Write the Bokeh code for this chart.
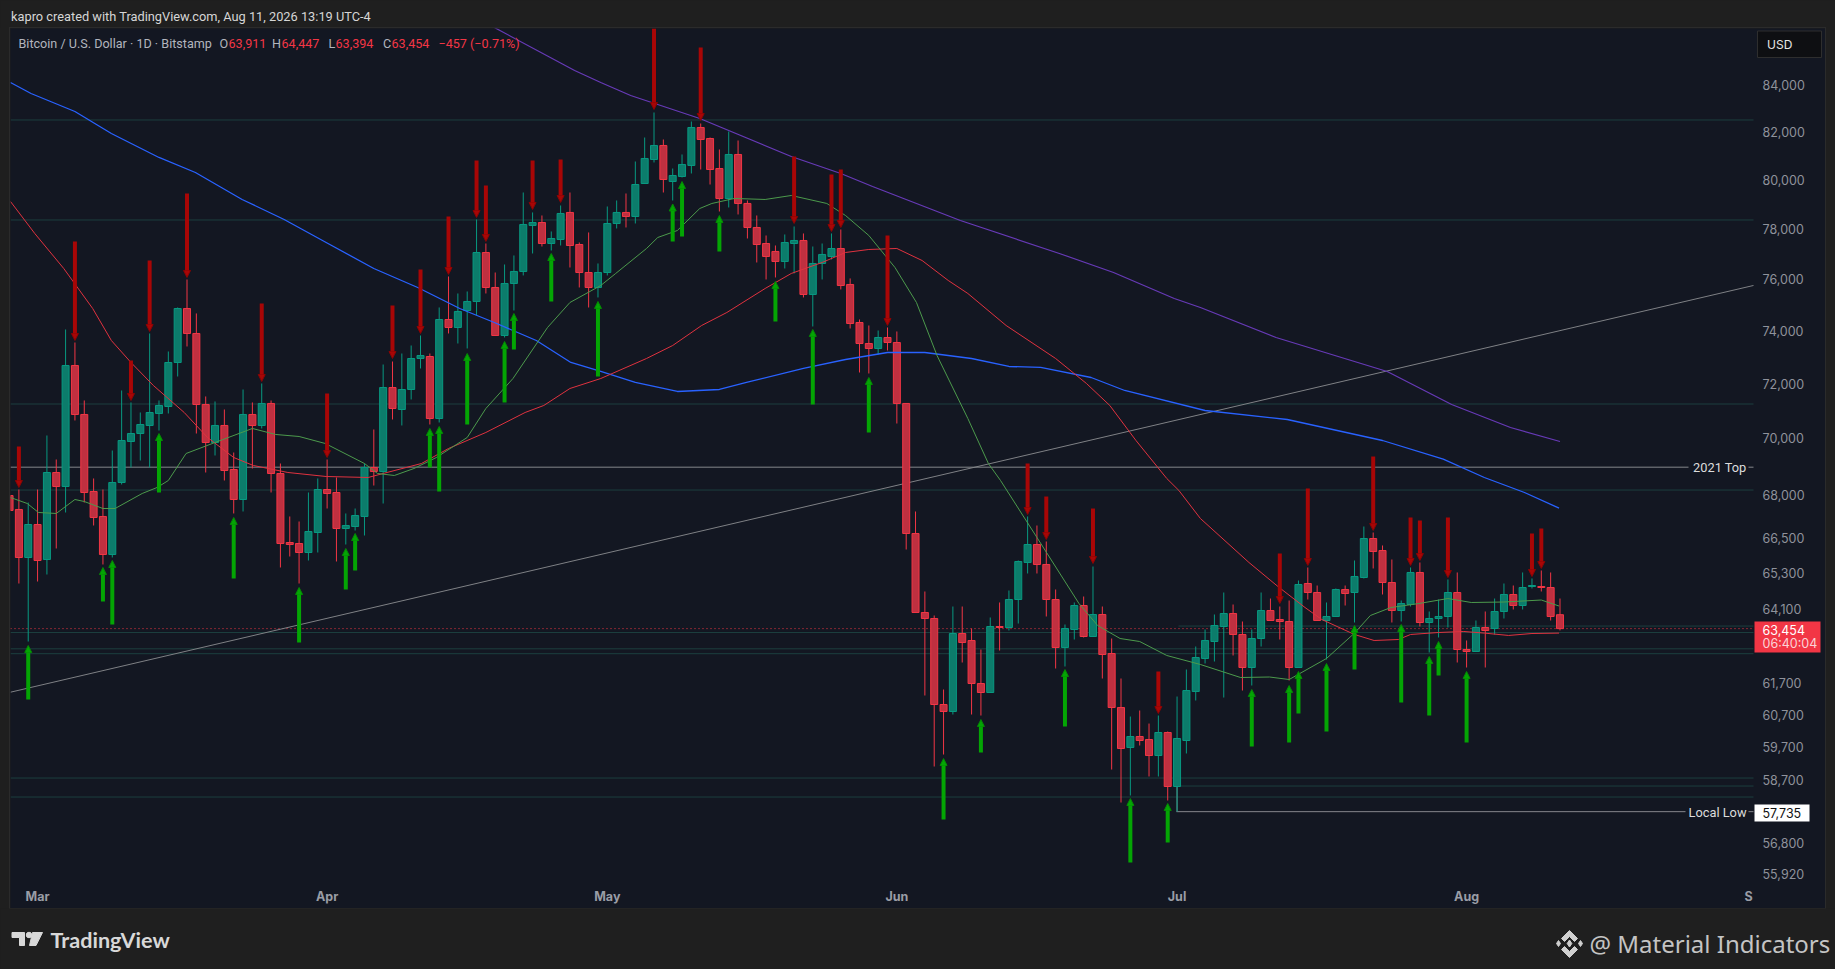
import math
from bokeh.plotting import figure
from bokeh.layouts import column
from bokeh.models import (Range1d, FixedTicker, NumeralTickFormatter, ColumnDataSource, Arrow,
                          NormalHead)
from bokeh.core.properties import value
from bokeh.embed import file_html
from bokeh.resources import INLINE

# ---------------- data ----------------
first_day = -3   # day index; 0 = 1 March
opens = [67965,67477,65826,66956,65758,68777,68282,72681,70867,68106,
 67234,65927,68423,69886,70175,70466,70904,71160,72794,74851,
 73892,71234,69850,70466,68884,67825,70867,70466,71271,68742,
 66337,66303,65996,66680,68176,68071,66818,66887,67234,68954,
 68813,71861,71050,71787,72944,73019,70721,74427,74121,74774,
 75122,77045,75667,73815,75823,76294,78127,78247,77404,77564,
 78653,77364,76254,75667,76254,78207,78653,78490,79837,80833,
 81419,79920,80127,80584,82178,81713,80457,79223,81042,79019,
 78046,77404,77086,76689,77404,77524,75394,76610,76887,77204,
 75784,74312,73511,73322,73739,73549,71271,66646,63984,63786,
 61017,60797,63294,63066,61682,61396,63523,63490,64414,65656,
 66269,65589,64414,62838,63425,64215,63196,63918,62644,60922,
 59679,60018,59925,59432,60142,58489,59894,61427,62483,63033,
 63523,63951,63262,62193,63131,64050,63753,63687,62193,64948,
 64647,63720,63852,64748,64647,65150,66474,66064,64982,64050,
 64248,65319,63654,63786,63852,64647,62773,62709,63490,63458,
 64017,64581,64215,64847,64847,64814,63911]
closes = [67442,65826,66956,65724,68777,68282,72681,70867,68071,67199,
 65927,68423,69922,70175,70502,70940,71197,72794,74851,73892,
 71234,69850,70466,68848,67825,70867,70466,71271,68742,66303,
 66269,65996,66715,68176,68036,66818,66922,67268,68954,68813,
 71861,71087,71787,72944,73057,70721,74427,74121,74736,75122,
 77045,75667,73815,75823,76294,78167,78247,77404,77604,78612,
 77324,76254,75667,76254,78207,78653,78490,79796,80875,81419,
 80002,80168,80625,82178,81671,80416,79223,81042,79019,78046,
 77364,76887,76689,77444,77524,75394,76610,76967,77204,75745,
 74274,73511,73322,73739,73549,71271,66646,63984,63786,61017,
 60797,63294,63001,61682,61396,63523,63490,64414,65690,66269,
 65589,64414,62838,63458,64215,63196,63918,62612,60922,59648,
 60018,59894,59432,60142,58489,59956,61459,62515,63066,63555,
 63951,63262,62193,63131,64050,63720,63687,62193,64915,64647,
 63720,63852,64748,64614,65184,66474,66030,64982,64050,64281,
 65319,63654,63786,63852,64647,62773,62709,63490,63392,64017,
 64581,64215,64814,64881,64814,63852,63454]
highs = [70760,68176,67720,68176,70103,69240,74044,73549,71381,68565,
 68176,69562,71750,71308,70940,73892,71381,73208,74890,75980,
 74659,71529,71344,71050,69490,71787,71308,72010,71381,69097,
 67234,67060,68071,68565,69240,68600,67338,67511,69097,70320,
 72719,72831,73132,73435,73815,73132,74890,76098,75433,75511,
 78368,77404,76254,76570,76927,79468,78653,78531,77885,78937,
 79468,77444,77845,76610,78896,79141,79427,80749,81755,82817,
 81671,80457,81042,82433,82348,81755,81251,82009,81629,79141,
 78531,77724,77324,77765,78087,77805,77284,77404,77805,77965,
 76020,74427,74197,74006,74121,73968,71271,67407,64681,63885,
 61491,64182,64182,63458,62773,63819,64315,64714,65724,67234,
 66922,66372,64748,63589,64315,64514,65521,64182,63131,61841,
 60640,60828,60421,60671,60173,61269,62129,62871,63425,63918,
 64647,64248,63687,63425,64647,64447,64182,64381,65049,65487,
 64881,64315,64781,64881,65724,66887,66680,66235,65758,64381,
 65487,65656,64017,64414,65083,65319,63066,63720,64017,64447,
 64948,64881,65319,65117,65386,65319,64447]
lows = [67442,64948,63033,65015,65251,66132,67372,70648,67720,66922,
 65589,65826,68353,68954,69204,68954,70284,70904,72270,73398,
 70175,68777,69383,68494,67338,67407,68919,70357,68071,65487,
 65860,64948,65724,65996,67511,65690,66269,66749,66577,68317,
 67685,70684,70466,71418,72569,70502,70575,73892,73511,73322,
 74582,75433,73815,73739,74774,76138,77006,77284,77125,77324,
 76451,75667,74890,75278,76138,78006,78046,78207,79837,80708,
 79468,79141,80085,80251,80416,79796,78693,78856,78572,77604,
 76649,75980,76059,76412,76216,75278,74159,75980,76768,75589,
 74083,72419,72382,73095,73246,70538,66098,63984,61301,59096,
 59463,60703,62354,60703,60671,61396,62741,63392,63621,65285,
 65285,63852,62161,62226,63098,63164,63196,61841,59004,58008,
 58218,59740,58792,58792,58068,57735,59494,61143,62322,62386,
 61237,62580,61459,61618,62871,63720,63098,61777,62193,64414,
 63720,62450,63852,64215,63654,65117,65454,64581,63654,63687,
 64182,63523,62676,63164,63490,62354,62193,62709,62193,63262,
 63786,64083,64083,64781,64681,63720,63394]

sell_days = [-2,4,10,12,16,24,31,38,41,44,47,48,53,56,66,71,81,85,86,91,106,108,113,120,133,136,143,147,148,151,160,161]
sell_from = [69706,77484,72869,76728,79427,75044,71639,74967,76372,78490,80791,79755,80791,80833,86486,85641,80959,80210,80416,77724,69097,67930,67511,62065,65962,68212,69347,67199,67095,67199,66646,66818]
sell_to   = [68247,73625,71381,73968,76059,72084,69311,72944,73892,76176,78450,77484,78775,79059,82945,82476,78207,77885,78046,74197,67303,66440,65623,60734,64281,65555,66749,65555,65724,65150,65184,65454]
buy_days = [-1,7,8,13,21,28,33,34,42,43,46,50,51,55,60,68,69,73,79,83,89,97,101,110,117,121,130,134,135,138,141,146,149,150,153]
buy_from = [61175,64348,63589,68071,65117,63001,64748,65386,68954,68106,70502,71308,73284,75122,72270,77484,77684,77086,74351,71234,70212,57502,59525,60328,56238,56822,59709,59832,60734,60173,62129,61080,60671,61936,59832]
buy_to   = [62903,65487,65724,70175,67199,64814,66132,66646,70357,70430,73132,73587,74659,77006,75122,78999,79920,78531,75902,74044,72232,59340,60546,62129,58128,57978,61491,61618,62065,62322,63555,63589,62547,63033,62065]

blue_days = [-2.9,-0.7,4,7.9,13,16.9,21.9,26.4,30.9,36,40.7,45.2,48.9,53.4,57.1,60.3,64,68.5,73,75.9,82,86.5,91,95,100,104,107.4,112.8,116.4,125,133.8,144,150.5,154.9,159.2,162.9]
blue_vals = [84108,83633,82859,81925,80917,80292,79182,78368,77444,76412,75667,74851,74312,73625,72794,72457,72047,71713,71787,72047,72569,72906,73170,73170,72944,72644,72607,72232,71750,71013,70684,69922,69254,68600,68071,67525]
purple_days = [48.9,57.5,60.3,63.5,70.9,80.7,86,89.4,98.8,109.4,115.2,121.7,124.5,132.6,144.5,151.4,157.7,163]
purple_vals = [86530,84634,84108,83547,82561,80958,80251,79714,78328,77006,76254,75239,74890,73739,72457,71234,70393,69886]
red_days = [-2.9,-0.3,2.8,5.9,7.9,10,12.4,15.7,18.2,21,23.1,26.8,30.9,35.4,37,41.1,44,48,52.2,54.2,57,60.3,65.2,68,71.1,73.8,77.9,80.7,84,86.5,89,92,94.7,97.5,99.6,103.7,109,112.3,114.8,117.6,120.9,122.2,124.5,129.7,132.8,135.7,137.5,141,143.1,145.7,147,150,152.7,154.9,157.5,160,162.9]
red_vals = [79100,77804,76412,74851,73625,72794,71935,70940,70031,69311,69026,68777,68635,68600,68742,69097,69634,70212,70940,71197,71824,72195,72944,73435,74197,74697,75628,76216,76649,77045,77165,77205,76728,75941,75433,74197,72944,72010,71197,69922,68565,68141,67164,65656,64848,64149,63753,63262,63066,63098,63262,63327,63360,63307,63230,63294,63307]
green_days = [-2.9,-1.1,0.1,2,4,5,7,8.3,11.2,12.8,14,15.9,19,23,25.5,28,30.8,35,36.4,38.2,40.3,42.7,46,48,50.9,54.6,57,60.3,61.9,65.2,66.4,68.5,70.9,72.2,74.6,77.9,80.7,84.5,86.5,89,91.8,94.1,96.3,99.6,101.8,103.1,107,111.5,113.5,115.9,118,120.9,124.5,128.8,131.9,134,138,141,142.7,144.9,147.9,151,153.5,157,161,162.9]
green_vals = [67895,67685,67372,67338,67825,67755,67511,67511,68036,68247,68494,69455,69850,70357,70139,70067,69814,69097,68742,68671,68919,69311,70031,71087,72195,74121,75083,75745,76216,77205,77644,77925,78815,79019,79223,79182,79345,79019,78531,77724,76451,75083,73057,70721,69097,68494,66509,64281,63555,63131,63033,62580,62290,61873,61889,61809,62483,63307,63885,64149,64281,64447,64315,64331,64397,64198]

levels = [82497,78348,71251,68158,63327,62796,62638,58746,58172]
late_levels = [63538,58504]
price_ticks = [84000,82000,80000,78000,76000,74000,72000,70000,68000,66500,65300,64100,61700,60700,59700,58700,56800,55920]
month_ticks = {0:"Mar",31:"Apr",61:"May",92:"Jun",122:"Jul",153:"Aug",183.2:"S"}
top_2021 = 68966
local_low = 57735
last_close = 63454
trend_vals = [61406,75745]

PANE = "#131722"; OUTER = "#1f1f1f"; GREY = "#b2b5be"; RED = "#f23645"; TEAL = "#089981"
LEVEL = "#1c3f3f"

# ---------------- calibration of the pane: page pixel <-> day / price
def xd(px): return (px - 37.07) / 9.34
def yd(py): return 84000 * math.exp(-(py - 84.5) / 1938)

days = [first_day + i for i in range(len(opens))]
up = [c >= o for o, c in zip(opens, closes)]

main = figure(width=1815, height=880, frame_width=1815, frame_height=880, output_backend="svg", toolbar_location=None,
              y_axis_type="log", y_axis_location="right",
              x_range=Range1d(xd(10), xd(1825)), y_range=Range1d(yd(908), yd(28)),
              min_border=0,
              background_fill_color=PANE, border_fill_color=PANE, outline_line_color=None,
              margin=(0, 0, 0, 10))
main.styles = {"outline": "1px solid #2b2b2b"}
main.grid.visible = False

ya = main.yaxis[0]
ya.fixed_location = xd(1753)
ya.ticker = FixedTicker(ticks=price_ticks)
ya.formatter = NumeralTickFormatter(format="0,0")
ya.axis_line_color = None; ya.major_tick_line_color = None; ya.minor_tick_line_color = None
ya.major_tick_out = 0; ya.major_tick_in = 0
ya.major_label_text_color = "#8f929b"; ya.major_label_text_font = "Inter"
ya.major_label_text_font_size = "12.5px"; ya.major_label_standoff = 9
xa = main.xaxis[0]
xa.fixed_location = yd(880)
xa.ticker = FixedTicker(ticks=list(month_ticks.keys()))
xa.major_label_overrides = dict(month_ticks)
xa.axis_line_color = None; xa.major_tick_line_color = None; xa.minor_tick_line_color = None
xa.major_tick_out = 0; xa.major_tick_in = 0
xa.major_label_text_color = "#9a9da6"; xa.major_label_text_font = "Inter"
xa.major_label_text_font_style = "bold"
xa.major_label_text_font_size = "12.5px"; xa.major_label_standoff = 8

# levels
x_l, x_r = xd(10), xd(1753)
for lv in levels:
    main.segment(x_l, lv, x_r, lv, line_color=LEVEL, line_width=1)
for lv in late_levels:
    main.segment(xd(1178), lv, x_r, lv, line_color=LEVEL, line_width=1)
main.segment(x_l, last_close, x_r, last_close, line_color=RED, line_width=1, line_dash="1 3")

# trend and marked levels
main.segment(x_l, trend_vals[0], x_r, trend_vals[1], line_color="#7f8185", line_width=1)
for a, b in [(10, 1688), (1748, 1753)]:
    main.segment(xd(a), top_2021, xd(b), top_2021, line_color="#85878c", line_width=1)
for a, b in [(1176, 1685), (1748, 1753)]:
    main.segment(xd(a), local_low, xd(b), local_low, line_color="#85878c", line_width=1)
main.segment(122, local_low, 122, opens[122 - first_day], line_color="#85878c", line_width=1)

# candles
src = ColumnDataSource(dict(x=days, o=opens, c=closes, h=highs, l=lows,
                            top=[max(a, b) for a, b in zip(opens, closes)],
                            bot=[min(a, b) for a, b in zip(opens, closes)],
                            wick=[TEAL if u else RED for u in up],
                            fill=["#0c7c6b" if u else "#bf3040" for u in up]))
main.segment("x", "h", "x", "l", source=src, line_color="wick", line_width=1)
main.vbar("x", 0.75, "top", "bot", source=src, fill_color="fill", line_color="wick", line_width=1)

# moving averages
main.line(blue_days, blue_vals, line_color="#2962ff", line_width=1.3)
main.line(purple_days, purple_vals, line_color="#673ab7", line_width=1.2)
main.line(red_days, red_vals, line_color="#e0323f", line_width=1)
main.line(green_days, green_vals, line_color="#4c9a4c", line_width=1)

# signal arrows
def arrows(d, a, b, col, edge):
    s = ColumnDataSource(dict(x=d, a=a, b=b))
    main.add_layout(Arrow(end=NormalHead(size=7, fill_color=col, line_color=edge, line_width=1),
                          source=s, x_start="x", y_start="a", x_end="x", y_end="b",
                          line_color=col, line_width=4, line_cap="butt"))
arrows(sell_days, sell_from, sell_to, "#a80606", "#8a0404")
arrows(buy_days, buy_from, buy_to, "#04a504", "#048a04")

# texts inside the pane
def ptext(px, py, t, col=GREY, size="12.6px", font="Roboto", align="left", style="normal"):
    main.text([xd(px)], [yd(py)], text=[t], text_color=col, text_font=value(font), text_font_size=size,
              text_baseline="middle", text_align=align, text_font_style=style)
ptext(18, 42.7, "Bitcoin / U.S. Dollar · 1D · Bitstamp")
for px, lab, px2, val in [(219, "O", 228, "63,911"), (271.5, "H", 281, "64,447"),
                          (328, "L", 335, "63,394"), (382.5, "C", 391, "63,454")]:
    ptext(px, 42.7, lab)
    ptext(px2, 42.7, val, RED)
ptext(438, 42.7, "−457 (−0.71%)", RED)
ptext(1746, 466.7, "2021 Top", "#dcdcdc", "12.8px", "Roboto", "right")
ptext(1746, 812, "Local Low", "#dcdcdc", "12.8px", "Roboto", "right")

# boxes on the price scale
def box(x0, x1, y0, y1, fill, edge=None):
    main.quad(left=[xd(x0)], right=[xd(x1)], top=[yd(y0)], bottom=[yd(y1)], fill_color=fill, line_color=edge)
box(1757, 1821, 30.5, 57, "#0e0f12", "#2e2e2e")
ptext(1766.5, 43.5, "USD", "#e6e6e6", "12px", "Inter")
box(1754, 1809, 804, 821, "#ffffff")
ptext(1762, 812.5, "57,735", "#111111", "12.5px", "Inter")
box(1754, 1820, 621, 652, RED)
ptext(1762, 629, "63,454", "#ffffff", "12.5px", "Inter")
ptext(1762, 643, "06:40:04", "#fbd3d7", "12.5px", "Inter")

# header and footer
def strip(h, y0, y1):
    p = figure(width=1835, height=h, frame_width=1835, frame_height=h, output_backend="svg", toolbar_location=None,
               x_range=Range1d(0, 1835), y_range=Range1d(y1, y0), x_axis_location=None, y_axis_location=None,
               min_border=0, background_fill_color=OUTER, border_fill_color=OUTER, outline_line_color=None)
    p.grid.visible = False
    return p

head = strip(28, 0, 28)
head.text([10.5], [16], text=["kapro created with TradingView.com, Aug 11, 2026 13:19 UTC-4"],
          text_color="#d6d6d6", text_font=value("Roboto"), text_font_size="12.8px", text_baseline="middle")

foot = strip(61, 908, 969)
foot.patch([11.5, 24, 24, 19, 19, 11.5], [932, 932, 945, 945, 937, 937], color="#d8d8d8")
foot.scatter([28.5], [934.5], marker="circle", size=5.5, color="#d8d8d8")
foot.patch([32, 42, 35.5, 29], [932, 932, 945, 945], color="#d8d8d8")
foot.text([50], [939], text=["TradingView"], text_color="#d8d8d8", text_font=value("Lato"),
          text_font_style="bold", text_font_size="21.6px", text_baseline="middle")
foot.text([1589], [943], text=["@ Material Indicators"], text_color="#c4c4c4", text_font=value("Noto Sans"),
          text_font_size="24px", text_baseline="middle")
for cx, cy, s in [(1558, 943, 6), (1569, 943, 7), (1580, 943, 6)]:
    foot.scatter([cx], [cy], marker="diamond", size=s, color="#d0d0d0")
foot.patch([1569, 1577, 1574, 1569, 1564, 1561], [930, 938, 941, 936, 941, 938], color="#d0d0d0")
foot.patch([1569, 1577, 1574, 1569, 1564, 1561], [957, 949, 946, 951, 946, 949], color="#d0d0d0")

page = column(head, main, foot, spacing=0)
html = file_html(page, INLINE)
html = html.replace("<head>", "<head><style>html,body{background:#1f1f1f;}</style>", 1)
open("out.html", "w").write(html)
